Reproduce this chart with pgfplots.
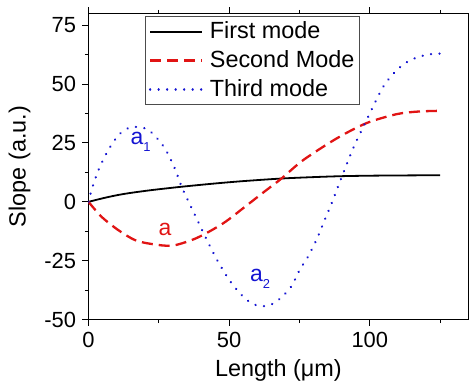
\documentclass[border=0pt]{standalone}
\usepackage{fontspec}
\setmainfont{Liberation Sans}
\usepackage{pgfplots}
\pgfplotsset{compat=1.18}
\definecolor{myred}{RGB}{225,20,20}
\definecolor{myblue}{RGB}{20,20,210}
\newcommand{\lf}{\fontsize{23.5}{28}\selectfont}
\begin{document}
\fontsize{22}{26}\selectfont
\begin{tikzpicture}
\path[use as bounding box] (-88.5bp,-69.3bp) rectangle (385.5bp,319.7bp);
\begin{axis}[
  at={(0,0)}, anchor=south west,
  scale only axis, width=379.8bp, height=306.4bp,
  xmin=0, xmax=135, ymin=-50, ymax=80,
  xtick={0,50,100}, minor xtick={25,75,125},
  ytick={-50,-25,0,25,50,75}, minor ytick={-37.5,-12.5,12.5,37.5,62.5},
  tick align=outside, xtick pos=both, ytick pos=left,
  major tick length=6bp, minor tick length=3.5bp,
  every tick/.style={black, line width=0.9pt},
  axis line style={line width=0.9pt},
  /pgf/number format/assume math mode=true,
  ticklabel style={font=\fontsize{22}{26}\selectfont},
  xticklabel style={yshift=1bp},
  yticklabel style={xshift=1bp},
  label style={font=\fontsize{23.5}{28}\selectfont},
  xlabel={Length (μm)}, ylabel={Slope (a.u.)},
  xlabel style={yshift=3bp},
  ylabel style={yshift=-1bp},
  legend style={at={(0.149,0.99)}, anchor=north west,
    nodes={inner sep=1.5bp},
    draw=black!70, line width=0.6pt, inner xsep=3.5bp, inner ysep=3.5bp,
    row sep=5.5bp, column sep=5bp, cells={anchor=west}},
  legend cell align=left,
  legend image code/.code={\draw[#1] (0bp,0bp) -- (52bp,0bp);},
]
\addplot[black, line width=1.8bp, smooth] coordinates {
(0,0) (5,1.5) (10,2.8) (15,3.8) (22.5,5) (33,6.4) (45,7.8) (55,8.8) (68.6,9.9) (80,10.5) (90,10.9) (100,11.1) (110,11.2) (125,11.3)};
\addlegendentry{\lf First mode}
\addplot[myred, line width=2.3bp, dash pattern=on 11bp off 6bp, smooth] coordinates {
(0,0) (4.7,-6.4) (10.6,-12) (16.5,-16.2) (22.5,-17.9) (29.6,-18.6) (36.7,-16.2) (42,-13.2) (48.5,-8.6) (55.6,-2.1) (62.7,4.5) (68.6,9.9) (76.3,17.7) (88.2,26.9) (98.8,33.4) (109.5,37.2) (117,38.3) (124,38.6)};
\addlegendentry{\lf Second Mode}
\addplot[myblue, line width=2.5bp, dash pattern=on 0.01bp off 8.5bp, line cap=round, smooth] coordinates {
(0,0) (1.1,5) (3.5,13.4) (7,21.9) (10.6,28.2) (14,31.2) (17.1,31.8) (20,31.2) (23,28.8) (27.2,22.6) (30.7,14.1) (33.1,6.4) (36,-1) (39,-8.5) (42,-16) (46.1,-25.5) (50.9,-34.6) (55.6,-40.9) (59,-43.6) (62.7,-44.2) (65.9,-43) (68.6,-40.5) (72.2,-35.7) (75,-29) (78,-23.3) (81,-16.2) (83.6,-8.7) (86.4,-0.7) (89.5,9) (94,22.5) (98.8,34.6) (104.7,48.7) (109.5,55.8) (114.2,60) (120.1,62.4) (124.9,62.9)};
\addlegendentry{\lf Third mode}
\node[myblue, font=\fontsize{23}{26}\selectfont] at (axis cs:18.5,25.4) {a\raisebox{-0.3em}{\fontsize{13}{13}\selectfont 1}};
\node[myred, font=\fontsize{23}{26}\selectfont] at (axis cs:27.2,-11.5) {a};
\node[myblue, font=\fontsize{23}{26}\selectfont] at (axis cs:61,-32.5) {a\raisebox{-0.3em}{\fontsize{13}{13}\selectfont 2}};
\end{axis}
\end{tikzpicture}
\end{document}
